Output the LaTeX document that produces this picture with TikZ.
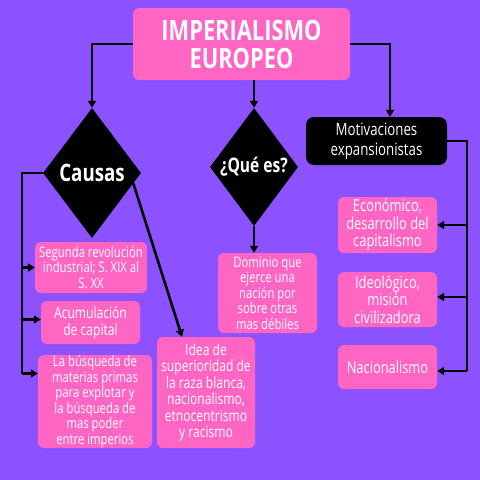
\documentclass[tikz,border=0pt]{standalone}
\usepackage{fontspec}
\setmainfont{Open Sans}
\newfontfamily\condfont[FakeStretch=0.78]{Open Sans}
\usetikzlibrary{arrows.meta, positioning, calc, shapes.geometric}
\definecolor{bgpurple}{RGB}{140,82,255}
\definecolor{boxpink}{RGB}{255,102,196}

\begin{document}
\begin{tikzpicture}[x=1pt, y=-1pt,
  pinkbox/.style={fill=boxpink, rounded corners=6pt, text=white, align=center,
    inner sep=0pt, font=\condfont\fontsize{14.5}{15.5}\selectfont},
  darkdiamond/.style={diamond, fill=black, text=white, inner sep=0pt},
  link/.style={draw=black, line width=2.6pt},
  tip/.style={link, -{Triangle[length=7pt, width=8pt]}}]

  % background
  \fill[bgpurple] (0,0) rectangle (480,480);

  % Title
  \node[pinkbox, minimum width=217pt, minimum height=72pt,
    font=\condfont\bfseries\fontsize{28}{28}\selectfont] (title) at (241.5,44)
    {IMPERIALISMO\\EUROPEO};

  % Three branches
  \node[darkdiamond, minimum width=98pt, minimum height=130pt,
    font=\condfont\bfseries\fontsize{24}{26}\selectfont] (causas) at (92,173) {Causas};
  \node[darkdiamond, minimum width=88pt, minimum height=118pt,
    font=\condfont\bfseries\fontsize{20}{22}\selectfont] (quees) at (254,167) {¿Qué es?};
  \node[fill=black, rounded corners=8pt, text=white, align=center, inner sep=0pt,
    minimum width=141pt, minimum height=48pt,
    font=\condfont\fontsize{17}{20}\selectfont] (motiv) at (376.5,141)
    {Motivaciones\\expansionistas};

  % Causas
  \node[pinkbox, minimum width=112pt, minimum height=51pt] (segunda) at (91,267.5)
    {Segunda revolución\\industrial; S. XIX al\\S. XX};
  \node[pinkbox, minimum width=99pt, minimum height=43pt,
    font=\condfont\fontsize{15.5}{17}\selectfont] (acum) at (90.5,322.5)
    {Acumulación\\de capital};
  \node[pinkbox, minimum width=114pt, minimum height=93pt] (busq) at (95,401.5)
    {La búsqueda de\\materias primas\\para explotar y\\la búsqueda de\\mas poder\\entre imperios};
  \node[pinkbox, minimum width=98pt, minimum height=111pt,
    font=\condfont\fontsize{15.5}{16.5}\selectfont] (idea) at (206,392.5)
    {Idea de\\superioridad de\\la raza blanca,\\nacionalismo,\\etnocentrismo\\y racismo};

  % Que es
  \node[pinkbox, minimum width=99pt, minimum height=80pt] (dominio) at (267.5,293)
    {Dominio que\\ejerce una\\nación por\\sobre otras\\mas débiles};

  % Motivaciones
  \node[pinkbox, minimum width=99pt, minimum height=56pt,
    font=\condfont\fontsize{16.5}{17.5}\selectfont] (econ) at (387.5,225)
    {Económico,\\desarrollo del\\capitalismo};
  \node[pinkbox, minimum width=99pt, minimum height=55pt,
    font=\condfont\fontsize{16.5}{17.5}\selectfont] (ideol) at (387.5,299.5)
    {Ideológico,\\misión\\civilizadora};
  \node[pinkbox, minimum width=99pt, minimum height=44pt,
    font=\condfont\fontsize{16.5}{17.5}\selectfont] (nac) at (387.5,367)
    {Nacionalismo};

  % connectors from title
  \draw[tip] (title.west) -| (causas.north);
  \draw[tip] (title.south -| quees.north) -- (quees.north);
  \draw[tip] (title.east) -| ([xshift=13.5pt]motiv.north);

  % left bus
  \coordinate (lbus) at (22,173);
  \coordinate (acumin) at ([yshift=3pt]acum.west);
  \coordinate (busqin) at ([yshift=28pt]busq.west);
  \draw[link] (causas.west) -- (lbus) -- (lbus |- busqin);
  \draw[tip] (lbus |- segunda.west) -- (segunda.west);
  \draw[tip] (lbus |- acumin) -- (acumin);
  \draw[tip] (lbus |- busqin) -- (busqin);
  \draw[tip] ($(causas.east)!0.16!(causas.south)$) -- ([xshift=-24pt]idea.north);

  % middle
  \draw[tip] (quees.south) -- (quees.south |- dominio.north);

  % right bus
  \coordinate (rbus) at (467,141);
  \coordinate (ideolin) at ([yshift=2.5pt]ideol.east);
  \coordinate (nacin) at ([yshift=-4pt]nac.east);
  \draw[link] (motiv.east) -- (rbus) -- (rbus |- nacin);
  \draw[tip] (rbus |- econ.east) -- (econ.east);
  \draw[tip] (rbus |- ideolin) -- (ideolin);
  \draw[tip] (rbus |- nacin) -- (nacin);
\end{tikzpicture}
\end{document}
